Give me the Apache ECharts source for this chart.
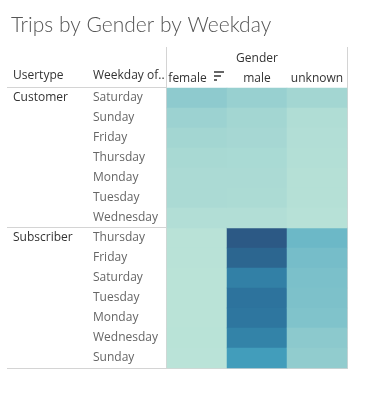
<!DOCTYPE html>
<html>
<head>
<meta charset="utf-8">
<script src="https://cdn.jsdelivr.net/npm/echarts@6/dist/echarts.min.js"></script>
<style>
html,body{margin:0;padding:0;background:#fff;}
#c{width:376px;height:397px;}
</style>
</head>
<body>
<div id="c"></div>
<script>
const genders = ['female', 'male', 'unknown'];
const customerDays = ['Saturday', 'Sunday', 'Friday', 'Thursday', 'Monday', 'Tuesday', 'Wednesday'];
const subscriberDays = ['Thursday', 'Friday', 'Saturday', 'Tuesday', 'Monday', 'Wednesday', 'Sunday'];
const customerFemale = [1900, 1300, 1000, 800, 700, 700, 400];
const customerMale = [1500, 1000, 900, 750, 700, 650, 400];
const customerUnknown = [1000, 500, 400, 350, 300, 300, 200];
const subscriberFemale = [120, 110, 90, 100, 100, 105, 80];
const subscriberMale = [10000, 9000, 7200, 8000, 7800, 7000, 5300];
const subscriberUnknown = [3300, 2900, 2700, 2600, 2500, 2000, 1800];

const rows = [];
customerDays.forEach(d => rows.push('Customer|' + d));
subscriberDays.forEach(d => rows.push('Subscriber|' + d));

const data = [];
const cust = [customerFemale, customerMale, customerUnknown];
const subs = [subscriberFemale, subscriberMale, subscriberUnknown];
for (let g = 0; g < 3; g++) {
  for (let i = 0; i < 7; i++) {
    data.push([g, i, cust[g][i]]);
    data.push([g, 7 + i, subs[g][i]]);
  }
}

const GL = 167, GR = 347, GT = 88, GB = 368;
const chart = echarts.init(document.getElementById('c'));
const font = '"Open Sans", Lato, sans-serif';
chart.setOption({
  animation: false,
  textStyle: {fontFamily: font},
  title: {
    text: 'Trips by Gender by Weekday',
    left: 6, top: 10,
    textStyle: {fontFamily: 'Lato, sans-serif', fontSize: 21, fontWeight: 300, color: '#555'}
  },
  grid: {left: GL, top: GT, width: GR - GL, height: GB - GT},
  visualMap: {
    type: 'continuous', show: false, min: 0, max: 10000, dimension: 2,
    inRange: {color: ['#bce4d8', '#a3d6d2', '#8cc9cd', '#73bcc8', '#5aafc3', '#45a2be', '#3a92b3', '#3383a8', '#2d739d', '#2c6690', '#2c5985']}
  },
  xAxis: {
    type: 'category', data: genders, position: 'top',
    name: 'Gender', nameLocation: 'middle', nameGap: 23,
    nameTextStyle: {fontSize: 12, color: '#333', fontFamily: font},
    axisLine: {show: false}, axisTick: {show: false}, splitLine: {show: false},
    axisLabel: {
      interval: 0, margin: 3, fontSize: 12, color: '#333', fontFamily: font,
      formatter: v => v === 'female' ? '{f|female}' : v,
      rich: {f: {fontSize: 12, color: '#333', fontFamily: font, padding: [0, 19, 0, 0]}}
    }
  },
  yAxis: [{
    type: 'category', data: rows, inverse: true,
    axisLine: {show: false}, axisTick: {show: false}, splitLine: {show: false},
    axisLabel: {
      interval: 0, margin: 74, align: 'left', fontSize: 12, color: '#666', fontFamily: font,
      formatter: v => v.split('|')[1]
    }
  }, {
    type: 'category', data: rows, inverse: true, position: 'left',
    axisLine: {show: false}, axisTick: {show: false}, splitLine: {show: false},
    axisLabel: {
      margin: 154, align: 'left', fontSize: 12, color: '#333', fontFamily: font,
      interval: 0, verticalAlign: 'middle',
      formatter: (v, i) => (i === 0 || i === 7) ? v.split('|')[0] : ''
    }
  }],
  series: [{
    type: 'heatmap', data: data, xAxisIndex: 0, yAxisIndex: 0,
    itemStyle: {borderWidth: 0},
    emphasis: {disabled: true}
  }],
  graphic: [
    {type: 'text', left: 13, top: 70, style: {text: 'Usertype', fontSize: 12, fill: '#333', fontFamily: font}},
    {type: 'text', left: 93, top: 70, style: {text: 'Weekday of..', fontSize: 12, fill: '#333', fontFamily: font}},
    {type: 'line', shape: {x1: 7, y1: 87.5, x2: GL, y2: 87.5}, style: {stroke: '#d4d4d4', lineWidth: 1}},
    {type: 'line', shape: {x1: 7, y1: 227.5, x2: GL, y2: 227.5}, style: {stroke: '#d4d4d4', lineWidth: 1}},
    {type: 'line', shape: {x1: 7, y1: 368.5, x2: GR, y2: 368.5}, style: {stroke: '#d4d4d4', lineWidth: 1}},
    {type: 'line', shape: {x1: GL - 0.5, y1: 47, x2: GL - 0.5, y2: 369}, style: {stroke: '#d4d4d4', lineWidth: 1}},
    {type: 'line', shape: {x1: GR + 0.5, y1: 47, x2: GR + 0.5, y2: 369}, style: {stroke: '#d4d4d4', lineWidth: 1}},
    {type: 'rect', shape: {x: 214, y: 71, width: 10, height: 2}, style: {fill: '#666'}},
    {type: 'rect', shape: {x: 214, y: 75, width: 7, height: 2}, style: {fill: '#666'}},
    {type: 'rect', shape: {x: 214, y: 79, width: 3, height: 2}, style: {fill: '#666'}}
  ]
});
</script>
</body>
</html>
